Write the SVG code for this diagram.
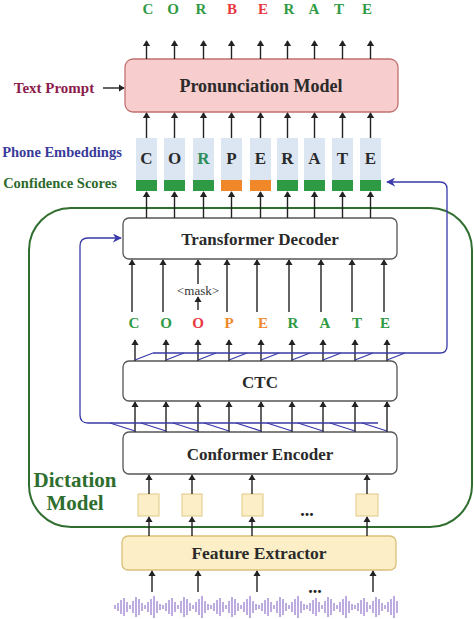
<svg xmlns="http://www.w3.org/2000/svg" width="474" height="619" viewBox="0 0 474 619">
<defs>
<marker id="ah" viewBox="0 0 8 10" refX="7" refY="5" markerWidth="6" markerHeight="7.5" orient="auto" markerUnits="userSpaceOnUse"><path d="M0,0 L8,5 L0,10 z" fill="#222"/></marker>
<marker id="bh" viewBox="0 0 10 10" refX="9" refY="5" markerWidth="9" markerHeight="9" orient="auto" markerUnits="userSpaceOnUse"><path d="M0,0 L10,5 L0,10 L3,5 z" fill="#3a3aa8"/></marker>
<style>
.t{font-family:"Liberation Serif","Times New Roman",serif;font-weight:bold;text-anchor:middle}
.box{fill:#fff;stroke:#555;stroke-width:1.3}
.a{stroke:#222;stroke-width:1.4;fill:none;marker-end:url(#ah)}
.b{stroke:#3a3aa8;stroke-width:1.3;fill:none}
.g{fill:#2f9a44}.r{fill:#e8383f}.o{fill:#f0882a}
.emb{fill:#dce6f2}
.bar{fill:#2f9a44}.obar{fill:#f0882a}
.sq{fill:#fcefc7;stroke:#e0c883;stroke-width:1}
</style>
</defs>

<g id="dictation-model">
<rect x="29" y="208" width="443" height="319" rx="42" fill="none" stroke="#2f6e2f" stroke-width="2"/>
<text class="t" x="75" y="487" font-size="21" fill="#2e6e2e">Dictation</text>
<text class="t" x="75" y="510" font-size="21" fill="#2e6e2e">Model</text>
</g>

<g id="output-letters" class="t" font-size="15">
<text class="g" x="148" y="14">C</text>
<text class="g" x="173" y="14">O</text>
<text class="g" x="201" y="14">R</text>
<text class="r" x="232" y="14">B</text>
<text class="r" x="263" y="14">E</text>
<text class="g" x="289" y="14">R</text>
<text class="g" x="314" y="14">A</text>
<text class="g" x="339" y="14">T</text>
<text class="g" x="367" y="14">E</text>
</g>

<g id="pronunciation-model">
<rect x="125" y="59" width="273" height="53" rx="8" fill="#f7cdcd" stroke="#c0706f" stroke-width="1.3"/>
<text class="t" x="261" y="92" font-size="18" fill="#2a2a2a">Pronunciation Model</text>
</g>

<g id="text-prompt">
<text class="t" x="54" y="93" font-size="15" fill="#8b1c4c">Text Prompt</text>
</g>

<g id="phone-embeddings">
<text class="t" x="62" y="157" font-size="14.5" fill="#3a3a9a">Phone Embeddings</text>
<rect class="emb" x="136" y="138" width="21" height="42"/>
<rect class="emb" x="164" y="138" width="21" height="42"/>
<rect class="emb" x="193" y="138" width="21" height="42"/>
<rect class="emb" x="221" y="138" width="21" height="42"/>
<rect class="emb" x="250" y="138" width="21" height="42"/>
<rect class="emb" x="277" y="138" width="21" height="42"/>
<rect class="emb" x="304" y="138" width="21" height="42"/>
<rect class="emb" x="332" y="138" width="21" height="42"/>
<rect class="emb" x="360" y="138" width="21" height="42"/>
<g class="t" font-size="17" fill="#2a2a2a">
<text x="146.5" y="164">C</text>
<text x="174.5" y="164">O</text>
<text x="203.5" y="164" fill="#2f8f5a">R</text>
<text x="231.5" y="164">P</text>
<text x="260.5" y="164">E</text>
<text x="287.5" y="164">R</text>
<text x="314.5" y="164">A</text>
<text x="342.5" y="164">T</text>
<text x="370.5" y="164">E</text>
</g>
</g>

<g id="confidence-scores">
<text class="t" x="60" y="188" font-size="14.5" fill="#2d6a2d">Confidence Scores</text>
<rect class="bar" x="136" y="180" width="21" height="11"/>
<rect class="bar" x="164" y="180" width="21" height="11"/>
<rect class="bar" x="193" y="180" width="21" height="11"/>
<rect class="obar" x="221" y="180" width="21" height="11"/>
<rect class="obar" x="250" y="180" width="21" height="11"/>
<rect class="bar" x="277" y="180" width="21" height="11"/>
<rect class="bar" x="304" y="180" width="21" height="11"/>
<rect class="bar" x="332" y="180" width="21" height="11"/>
<rect class="bar" x="360" y="180" width="21" height="11"/>
</g>

<g id="transformer-decoder">
<rect class="box" x="123" y="218" width="274" height="41" rx="6"/>
<text class="t" x="260" y="245" font-size="17" fill="#2a2a2a">Transformer Decoder</text>
</g>

<g id="ctc-letters" class="t" font-size="15">
<text class="g" x="134" y="328">C</text>
<text class="g" x="166" y="328">O</text>
<text class="r" x="198" y="328">O</text>
<text class="o" x="229" y="328">P</text>
<text class="o" x="263" y="328">E</text>
<text class="g" x="293" y="328">R</text>
<text class="g" x="325" y="328">A</text>
<text class="g" x="357" y="328">T</text>
<text class="g" x="385" y="328">E</text>
</g>

<g id="mask">
<text x="198" y="295" font-family="Liberation Serif, Times New Roman, serif" font-size="13" text-anchor="middle" fill="#333">&lt;mask&gt;</text>
</g>

<g id="ctc">
<rect class="box" x="123" y="361" width="274" height="40" rx="6"/>
<text class="t" x="260" y="388" font-size="17" fill="#2a2a2a">CTC</text>
</g>

<g id="conformer-encoder">
<rect class="box" x="123" y="432" width="274" height="42" rx="6"/>
<text class="t" x="260" y="460" font-size="17" fill="#2a2a2a">Conformer Encoder</text>
</g>

<g id="frames">
<rect class="sq" x="138" y="494" width="21" height="22"/>
<rect class="sq" x="182" y="494" width="20" height="22"/>
<rect class="sq" x="242" y="494" width="21" height="22"/>
<rect class="sq" x="356" y="494" width="22" height="22"/>
<text class="t" x="307" y="516" font-size="18" fill="#222">...</text>
</g>

<g id="feature-extractor">
<rect x="122" y="536" width="274" height="34" rx="6" fill="#fcefc7" stroke="#d9c07a" stroke-width="1.3"/>
<text class="t" x="259" y="559" font-size="17.5" fill="#2a2a2a">Feature Extractor</text>
</g>

<g id="waveform">
<path stroke="#9b80d2" stroke-width="1.3" fill="none" d="M115 605v4M118 603v8M121 600v14M124 598v18M127 602v10M130 605v4M133 601v12M136 597v20M139 599v16M142 603v8M145 605v4M148 602v10M151 599v16M154 596v22M157 601v12M160 604v6M163 605v4M166 603v8M169 600v14M172 598v18M175 602v10M178 605v4M181 601v12M184 597v20M187 599v16M190 603v8M193 605v4M196 602v10M199 599v16M202 596v22M205 601v12M208 604v6M211 605v4M214 603v8M217 600v14M220 598v18M223 602v10M226 605v4M229 601v12M232 597v20M235 599v16M238 603v8M241 605v4M244 602v10M247 599v16M250 596v22M253 601v12M256 604v6M259 605v4M262 603v8M265 600v14M268 598v18M271 602v10M274 605v4M277 601v12M280 597v20M283 599v16M286 603v8M289 605v4M292 602v10M295 599v16M298 596v22M301 601v12M304 604v6M307 605v4M310 603v8M313 600v14M316 598v18M319 602v10M322 605v4M325 601v12M328 597v20M331 599v16M334 603v8M337 605v4M340 602v10M343 599v16M346 596v22M349 601v12M352 604v6M355 605v4M358 603v8M361 600v14M364 598v18M367 602v10M370 605v4M373 601v12M376 597v20M379 599v16M382 603v8M385 605v4M388 602v10M391 599v16M394 596v22M397 601v12"/>
<text class="t" x="315" y="593" font-size="18" fill="#222">...</text>
</g>

<g id="connectors">
<path class="a" d="M103 88H124"/>
<path class="a" d="M146.5 59V41"/><path class="a" d="M174.5 59V41"/><path class="a" d="M203.5 59V41"/><path class="a" d="M231.5 59V41"/><path class="a" d="M260.5 59V41"/><path class="a" d="M287.5 59V41"/><path class="a" d="M314.5 59V41"/><path class="a" d="M342.5 59V41"/><path class="a" d="M370.5 59V41"/>
<path class="a" d="M146.5 138V113"/><path class="a" d="M174.5 138V113"/><path class="a" d="M203.5 138V113"/><path class="a" d="M231.5 138V113"/><path class="a" d="M260.5 138V113"/><path class="a" d="M287.5 138V113"/><path class="a" d="M314.5 138V113"/><path class="a" d="M342.5 138V113"/><path class="a" d="M370.5 138V113"/>
<path class="a" d="M146.5 218V192"/><path class="a" d="M174.5 218V192"/><path class="a" d="M203.5 218V192"/><path class="a" d="M231.5 218V192"/><path class="a" d="M260.5 218V192"/><path class="a" d="M287.5 218V192"/><path class="a" d="M314.5 218V192"/><path class="a" d="M342.5 218V192"/><path class="a" d="M370.5 218V192"/>
<path class="a" d="M132 312V260"/><path class="a" d="M163 312V260"/><path class="a" d="M198 284V260"/><path class="a" d="M227 312V260"/><path class="a" d="M257 312V260"/><path class="a" d="M289 312V260"/><path class="a" d="M321 312V260"/><path class="a" d="M352 312V260"/><path class="a" d="M384 312V260"/>
<path class="a" d="M198 310V297"/>
<path class="a" d="M135 361V340"/><path class="a" d="M166 361V340"/><path class="a" d="M198 361V340"/><path class="a" d="M229 361V340"/><path class="a" d="M261 361V340"/><path class="a" d="M292 361V340"/><path class="a" d="M323 361V340"/><path class="a" d="M355 361V340"/><path class="a" d="M387 361V340"/>
<path class="a" d="M135 432V402"/><path class="a" d="M166 432V402"/><path class="a" d="M198 432V402"/><path class="a" d="M229 432V402"/><path class="a" d="M261 432V402"/><path class="a" d="M292 432V402"/><path class="a" d="M323 432V402"/><path class="a" d="M355 432V402"/><path class="a" d="M387 432V402"/>
<path class="a" d="M149 494V475"/><path class="a" d="M192 494V475"/><path class="a" d="M252 494V475"/><path class="a" d="M367 494V475"/>
<path class="a" d="M149 536V517"/><path class="a" d="M192 536V517"/><path class="a" d="M252 536V517"/><path class="a" d="M367 536V517"/>
<path class="a" d="M152 592V571"/><path class="a" d="M198 592V571"/><path class="a" d="M257 592V571"/><path class="a" d="M373 592V571"/>
<path class="b" d="M153 353H440Q447 353 447 346V189Q447 182 440 182H387" marker-end="url(#bh)"/>
<path class="b" d="M135 360L153 353M166 360L184 353M198 360L216 353M229 360L247 353M261 360L279 353M292 360L310 353M323 360L341 353M355 360L373 353M387 360L405 353"/>
<path class="b" d="M378 423H88Q80 423 80 415V246Q80 238 88 238H121" marker-end="url(#bh)"/>
<path class="b" d="M110 423L135 431M141 423L166 431M173 423L198 431M204 423L229 431M236 423L261 431M267 423L292 431M298 423L323 431M330 423L355 431M362 423L387 431"/>
</g>
</svg>
